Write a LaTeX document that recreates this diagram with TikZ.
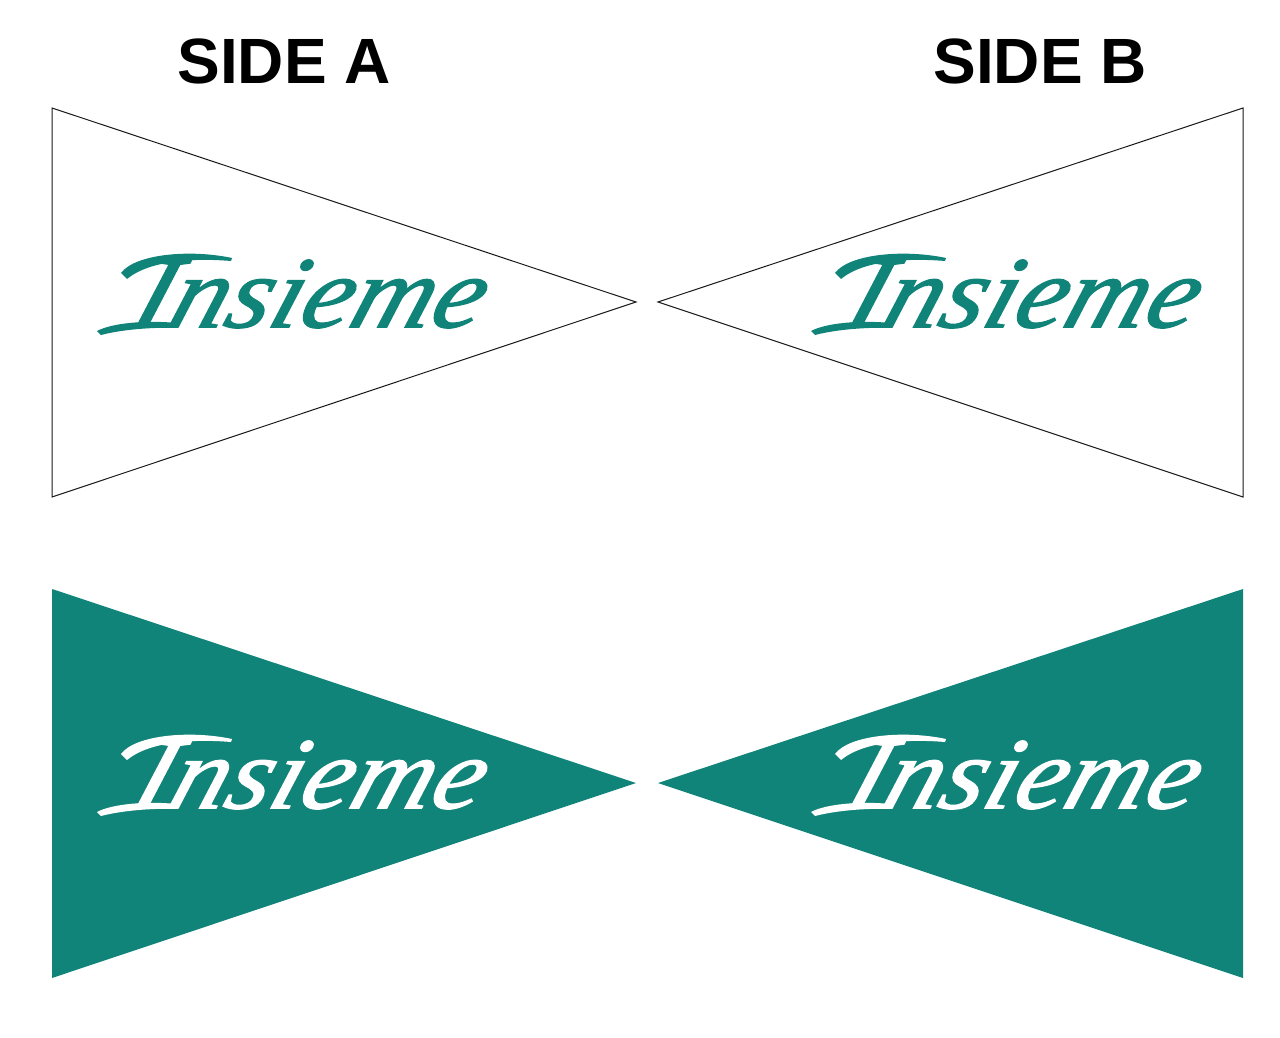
\documentclass[tikz,border=0pt]{standalone}
\usepackage{fontspec}
\setmainfont{Liberation Sans}
\newfontfamily\scriptf[FakeSlant=0.3,FakeBold=1.2]{Liberation Serif Italic}
\definecolor{teal1}{HTML}{11847A}
\tikzset{
  x=1pt,y=-1pt,
  outlined/.style={draw=black!90,line width=1pt,fill=white,line join=miter},
  filledflag/.style={fill=teal1,draw=none},
  sidelabel/.style={font=\fontsize{64}{64}\selectfont\bfseries,text=black,inner sep=0pt,anchor=center},
  wordmark/.style={font=\fontsize{102}{102}\scriptf,inner sep=0pt,anchor=center,xscale=1.1},
  swash/.pic={
    \fill[pic actions] (121,273) .. controls (135,254) and (190,249) .. (232,258)
      -- (231,261) .. controls (195,258) and (150,260) .. (127,279) -- cycle;
    \fill[pic actions] (97,331) .. controls (112,323) and (145,320) .. (177,323)
      -- (176,328) .. controls (150,327) and (120,330) .. (101,335) -- cycle;
  }
}
\begin{document}
\begin{tikzpicture}
\useasboundingbox (0,0) rectangle (1280,1038);
\node[sidelabel] (sa) at (284,61) {SIDE A};
\node[sidelabel] (sb) at (1040,61) {SIDE B};
\draw[outlined] (52,108) -- (636,302) -- (52,497) -- cycle;
\draw[outlined] (1243,108) -- (658,302) -- (1243,497) -- cycle;
\fill[filledflag] (52,589) -- (636,783) -- (52,978) -- cycle;
\fill[filledflag] (1243,589) -- (658,783) -- (1243,978) -- cycle;
\node[wordmark,text=teal1] (w1) at (302,294) {Insieme};
\node[wordmark,text=teal1] (w2) at (1016,294) {Insieme};
\node[wordmark,text=white] (w3) at (302,775) {Insieme};
\node[wordmark,text=white] (w4) at (1016,775) {Insieme};
\pic[fill=teal1] at (0,0) {swash};
\pic[fill=teal1] at (714,0) {swash};
\pic[fill=white] at (0,481) {swash};
\pic[fill=white] at (714,481) {swash};
\end{tikzpicture}
\end{document}
